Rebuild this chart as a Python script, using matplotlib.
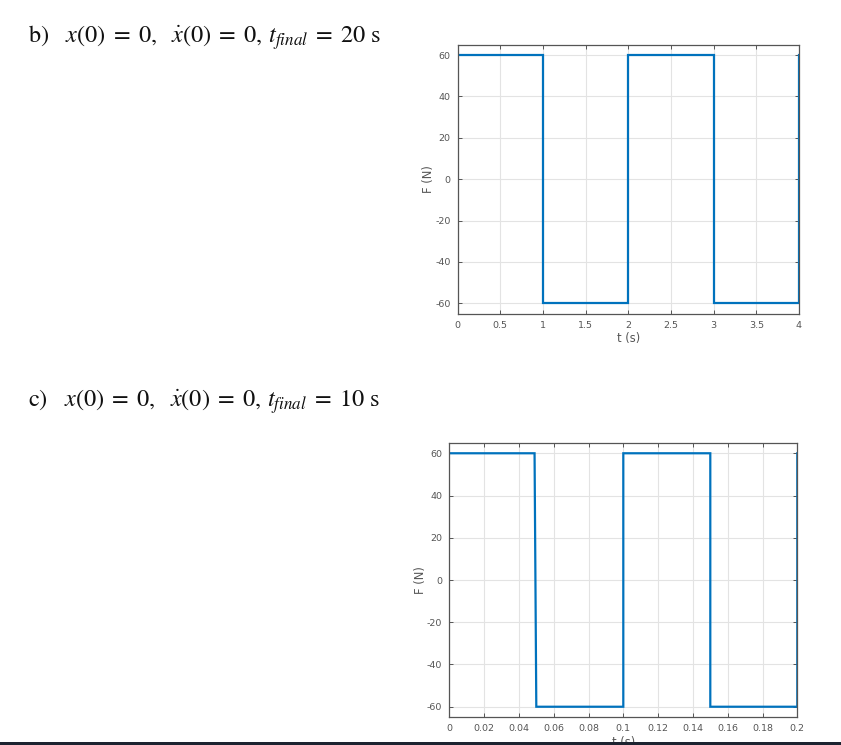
import matplotlib
matplotlib.use("Agg")
import matplotlib.pyplot as plt
from matplotlib.patches import Rectangle

# Force input F(t) for case b) (square wave, period 2 s)
t_b = [0, 1, 1, 2, 2, 3, 3, 4, 4]
F_b = [60, 60, -60, -60, 60, 60, -60, -60, 60]
xticks_b = [0, 0.5, 1, 1.5, 2, 2.5, 3, 3.5, 4]
xticklabels_b = ["0", "0.5", "1", "1.5", "2", "2.5", "3", "3.5", "4"]

# Force input F(t) for case c) (square wave, period 0.1 s)
t_c = [0, 0.049, 0.05, 0.1, 0.1, 0.15, 0.15, 0.2, 0.2]
F_c = [60, 60, -60, -60, 60, 60, -60, -60, 60]
xticks_c = [0, 0.02, 0.04, 0.06, 0.08, 0.1, 0.12, 0.14, 0.16, 0.18, 0.2]
xticklabels_c = ["0", "0.02", "0.04", "0.06", "0.08", "0.1", "0.12", "0.14", "0.16", "0.18", "0.2"]

yticks = [-60, -40, -20, 0, 20, 40, 60]
yticklabels = ["-60", "-40", "-20", "0", "20", "40", "60"]

headings = [r"$\mathrm{b)}\ \ \ x(0)\;=\;0,\ \ \dot{x}(0)\;=\;0,\,t_{final}\;=\;20\ \mathrm{s}$",
            r"$\mathrm{c)}\ \ \ x(0)\;=\;0,\ \ \dot{x}(0)\;=\;0,\,t_{final}\;=\;10\ \mathrm{s}$"]

plt.rcParams["mathtext.fontset"] = "stix"
plt.rcParams["font.family"] = ["DejaVu Sans"]

W, H = 841, 745
fig = plt.figure(figsize=(W / 100, H / 100), dpi=100)

line_color = "#0072BD"
tick_col = "#555555"
box_col = "#555555"


def px_axes(left, top, right, bottom):
    return fig.add_axes([left / W, 1 - bottom / H, (right - left) / W, (bottom - top) / H])


def style(ax, t, F, xticks, xticklabels, xlim, ylabelpad):
    ax.plot(t, F, color=line_color, lw=1.6, solid_joinstyle="miter")
    ax.set_xlim(*xlim)
    ax.set_ylim(-65, 65)
    ax.set_xticks(xticks)
    ax.set_xticklabels(xticklabels)
    ax.set_yticks(yticks)
    ax.set_yticklabels(yticklabels)
    ax.grid(True, color="#e3e3e3", lw=0.8)
    ax.set_axisbelow(True)
    for s in ax.spines.values():
        s.set_color(box_col)
        s.set_linewidth(0.9)
    ax.tick_params(direction="in", length=3, width=0.7, color=box_col,
                   labelsize=6.8, labelcolor=tick_col, top=True, right=True, pad=5)
    ax.set_ylabel("F (N)", fontsize=8.3, color=tick_col, labelpad=ylabelpad)
    ax.set_xlabel("t (s)", fontsize=8.3, color=tick_col, labelpad=2)


ax1 = px_axes(457.7, 44.7, 799, 313.7)
style(ax1, t_b, F_b, xticks_b, xticklabels_b, (0, 4), 0)

ax2 = px_axes(449.3, 442.7, 797.3, 717.3)
style(ax2, t_c, F_c, xticks_c, xticklabels_c, (0, 0.2), 0)

fig.text(28 / W, 1 - 43 / H, headings[0], fontsize=17.5, color="#111111", va="baseline", ha="left")
fig.text(28 / W, 1 - 407 / H, headings[1], fontsize=17.5, color="#111111", va="baseline", ha="left")

# dark strip along the bottom edge
fig.patches.append(Rectangle((0, 0), 1, 3 / H, transform=fig.transFigure,
                             facecolor="#1d2330", edgecolor="none", zorder=10))

fig.savefig("out.png", dpi=100)
